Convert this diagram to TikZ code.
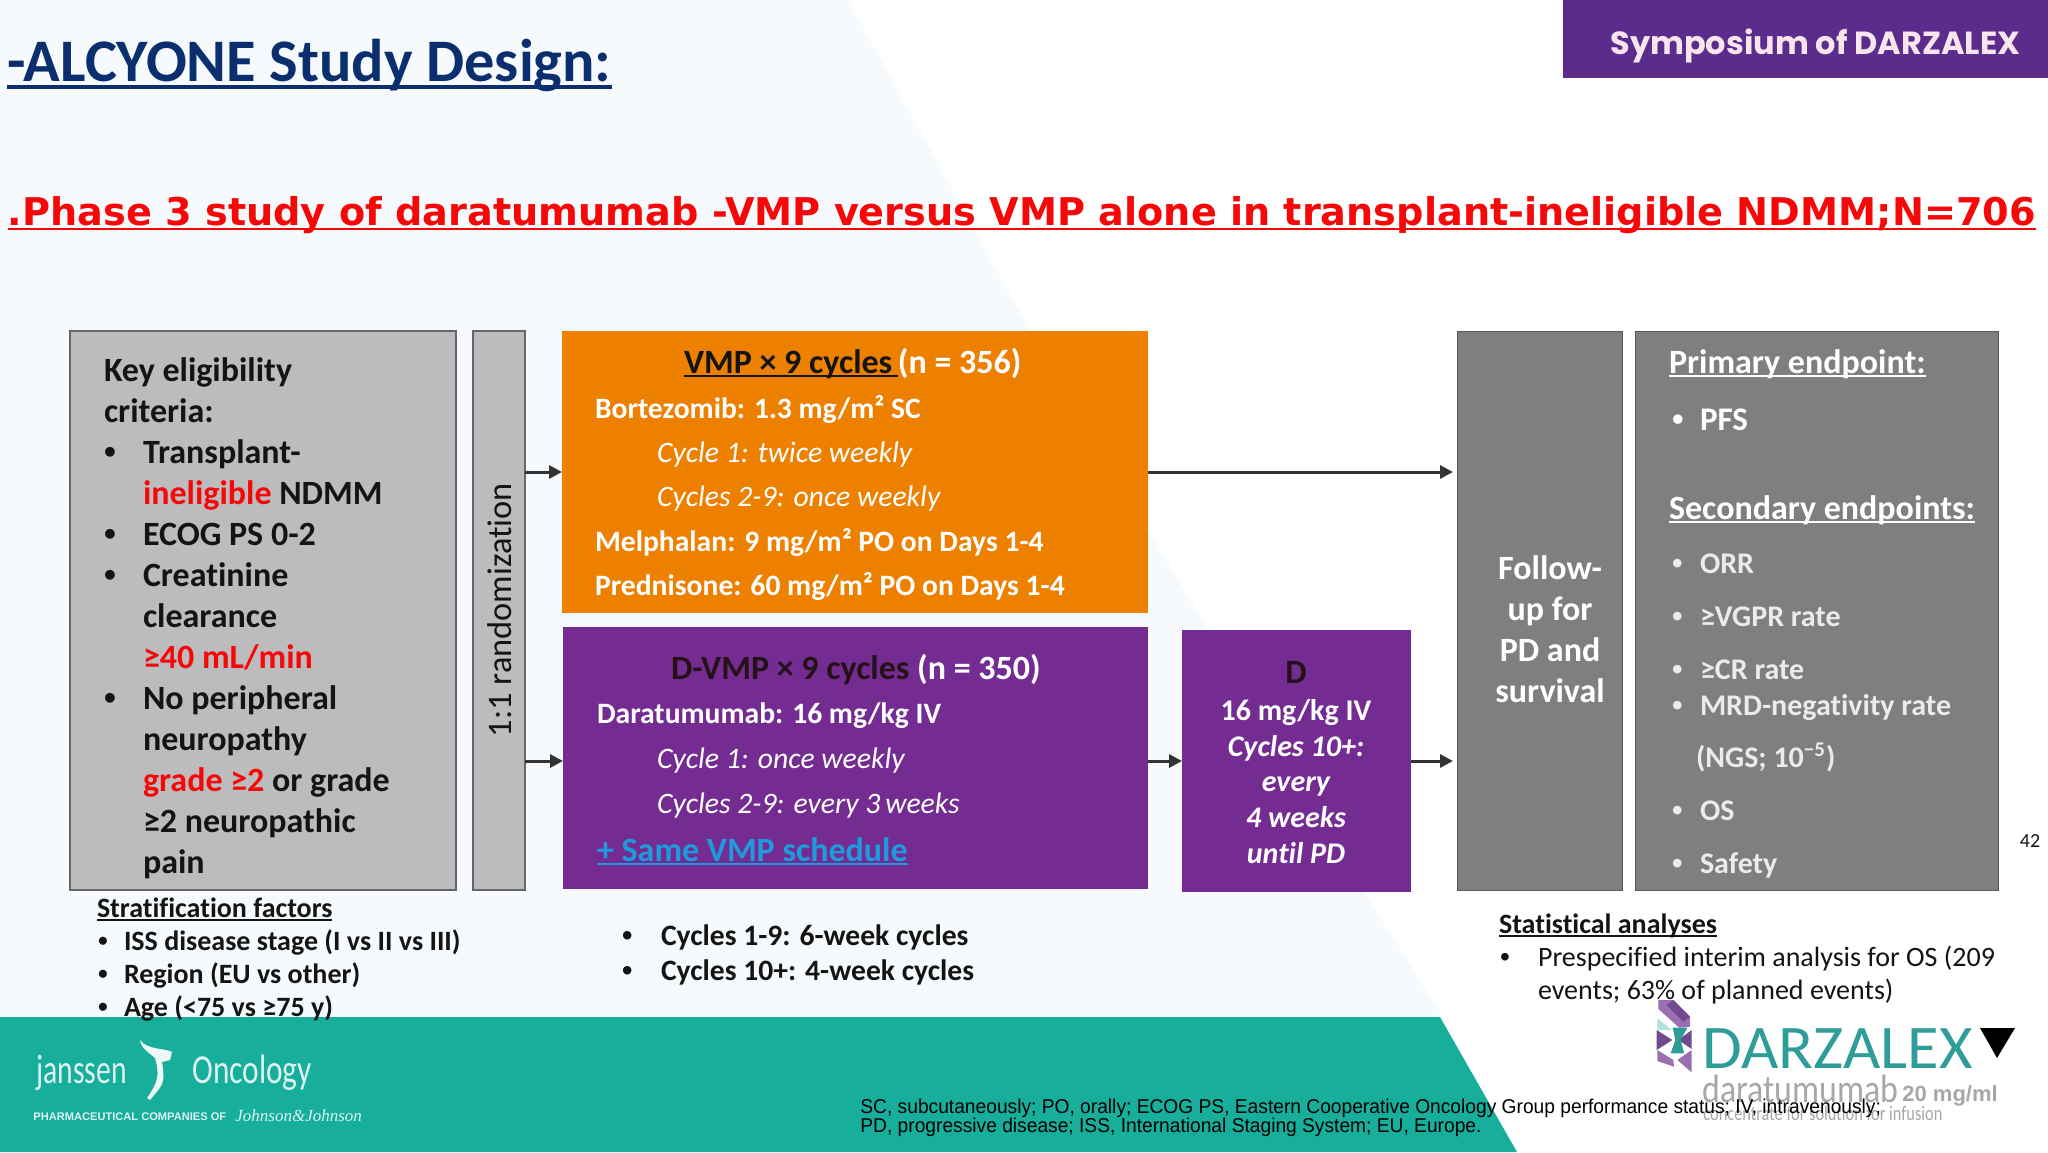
\documentclass[tikz,border=0pt]{standalone}
\usepackage{fontspec}
\setmainfont[Ligatures=NoCommon]{Carlito}
\newfontfamily\verd{DejaVu Sans}
\newfontfamily\arl{Liberation Sans}
\newfontfamily\popp{Poppins}
\newfontfamily\scr{Liberation Serif}
\usetikzlibrary{arrows.meta}
\newcommand\fz[1]{\fontsize{#1}{#1}\selectfont}
\newcommand\bul{{\arl •}}
\newlength\ulw
\newcommand\uln[2][0.06em]{\settowidth\ulw{#2}\rlap{\rule[-0.13em]{\ulw}{#1}}#2}
\definecolor{orangebox}{HTML}{EE8000}
\definecolor{purplebox}{HTML}{752C92}
\definecolor{banner}{HTML}{5B2C8C}
\definecolor{lgrey}{HTML}{BCBCBE}
\definecolor{dgrey}{HTML}{7F7F7F}
\definecolor{teal}{HTML}{17AE9B}
\definecolor{titleblue}{HTML}{0B2F6E}
\definecolor{redtxt}{HTML}{F60808}
\definecolor{darkarrow}{HTML}{333333}
\definecolor{linkblue}{HTML}{1E9BDC}
\definecolor{ink}{HTML}{141414}
\definecolor{pale}{HTML}{F6FAFC}
\definecolor{logoteal}{HTML}{2E9C98}
\definecolor{logogrey}{HTML}{A4A8A8}
\definecolor{logopurple}{HTML}{9A6FB0}
\definecolor{logodeep}{HTML}{6F4A8E}
\tikzset{
 x=0.5pt,y=-0.5pt,
 boxs/.style={inner sep=0,outer sep=0},
 t/.style={anchor=base west,inner sep=0,outer sep=0,text=ink,font=\bfseries\fz{17}},
 tc/.style={anchor=base,inner sep=0,outer sep=0,font=\bfseries\fz{17}},
 flow/.style={draw=darkarrow,line width=1.5pt,-{Triangle[length=6.5pt,width=6.5pt]}},
}
\begin{document}
\begin{tikzpicture}
\useasboundingbox (0,0) rectangle (2048,1152);
\fill[white] (0,0) rectangle (2048,1152);
\fill[pale] (0,0) -- (848,0) -- (1035,340) -- (1367,897) -- (1443,1017) -- (0,1017) -- cycle;
% teal band
\fill[teal] (0,1017) -- (1440,1017) -- (1517,1152) -- (0,1152) -- cycle;
% banner
\node[boxs,fill=banner,minimum width=485*0.5pt,minimum height=78*0.5pt,anchor=north west] (banner) at (1563,0) {};
\node[anchor=base west,inner sep=0,font=\popp\bfseries\fz{16},text=white!90!purple] (bannertext) at (1610,54) {Symposium of DARZALEX};
% titles
\node[t,font=\bfseries\fz{30.2},text=titleblue] (title) at (7,81) {\uln{-ALCYONE Study Design:}};
\node[t,font=\verd\bfseries\fz{19.11},text=redtxt] (subtitle) at (8,225) {\uln{.Phase 3 study of daratumumab -VMP versus VMP alone in transplant-ineligible NDMM;N=706}};
% boxes
\node[boxs,draw=gray!80!black,line width=0.6pt,fill=lgrey,minimum width=386*0.5pt,minimum height=559*0.5pt] (elig) at (263,610.5) {};
\node[boxs,draw=gray!80!black,line width=0.6pt,fill=lgrey,minimum width=52*0.5pt,minimum height=559*0.5pt] (rand) at (499,610.5) {};
\node[boxs,fill=orangebox,minimum width=586*0.5pt,minimum height=282*0.5pt] (vmp) at (855,472) {};
\node[boxs,fill=purplebox,minimum width=585*0.5pt,minimum height=262*0.5pt] (dvmp) at (855.5,758) {};
\node[boxs,fill=purplebox,minimum width=229*0.5pt,minimum height=262*0.5pt] (dbox) at (1296.5,761) {};
\node[boxs,fill=dgrey,draw=gray!70!black,line width=0.4pt,minimum width=165*0.5pt,minimum height=559*0.5pt] (follow) at (1539.5,610.5) {};
\node[boxs,fill=dgrey,draw=gray!70!black,line width=0.4pt,minimum width=363*0.5pt,minimum height=559*0.5pt] (endp) at (1816.5,610.5) {};
% connectors
\draw[flow] (rand.east |- vmp.west) -- (vmp.west);
\draw[flow,shorten >=2pt] (vmp.east) -- (follow.west |- vmp.east);
\coordinate (ylow) at (0,761);
\draw[flow] (rand.east |- ylow) -- (dvmp.west |- ylow);
\draw[flow] (dvmp.east |- ylow) -- (dbox.west |- ylow);
\draw[flow,shorten >=2pt] (dbox.east |- ylow) -- (follow.west |- ylow);
% eligibility
\node[t] (e1) at (104,381) {Key eligibility};
\node[t] (e2) at (104,422) {criteria:};
\node[t] (e3b) at (104,463) {\bul}; \node[t] (e3) at (143,463) {Transplant-};
\node[t] (e4) at (143,504) {\textcolor{redtxt}{ineligible} NDMM};
\node[t] (e5b) at (104,545) {\bul}; \node[t] (e5) at (143,545) {ECOG PS 0-2};
\node[t] (e6b) at (104,586) {\bul}; \node[t] (e6) at (143,586) {Creatinine};
\node[t] (e7) at (143,627) {clearance};
\node[t,text=redtxt] (e8) at (143,668) {≥40 mL/min};
\node[t] (e9b) at (104,709) {\bul}; \node[t] (e9) at (143,709) {No peripheral};
\node[t] (e10) at (143,750) {neuropathy};
\node[t] (e11) at (143,791) {\textcolor{redtxt}{grade ≥2} or grade};
\node[t] (e12) at (143,832) {≥2 neuropathic};
\node[t] (e13) at (143,873) {pain};
\node[anchor=center,rotate=90,inner sep=0,font=\fz{17.2},text=ink] (randt) at (500,610) {1:1 randomization};
% VMP
\node[t,text=white] (v0) at (684,373) {\textcolor{ink}{\uln{VMP × 9 cycles\,}}(n = 356)};
\node[t,text=white,font=\bfseries\fz{14.8}] (v1) at (595,418) {Bortezomib: 1.3 mg/m² SC};
\node[t,text=white,font=\itshape\fz{14.85}] (v2) at (657,462) {Cycle 1: twice weekly};
\node[t,text=white,font=\itshape\fz{14.85}] (v3) at (657,506) {Cycles 2-9: once weekly};
\node[t,text=white,font=\bfseries\fz{14.8}] (v4) at (595,551) {Melphalan: 9 mg/m² PO on Days 1-4};
\node[t,text=white,font=\bfseries\fz{14.8}] (v5) at (595,595) {Prednisone: 60 mg/m² PO on Days 1-4};
% D-VMP
\node[t,text=white] (d0) at (671,679) {\textcolor{ink!90!purple}{D-VMP × 9 cycles} (n = 350)};
\node[t,text=white,font=\bfseries\fz{14.8}] (d1) at (597,723) {Daratumumab: 16 mg/kg IV};
\node[t,text=white,font=\itshape\fz{14.85}] (d2) at (657,768) {Cycle 1: once weekly};
\node[t,text=white,font=\itshape\fz{14.85}] (d3) at (657,813) {Cycles 2-9: every 3\,weeks};
\node[t,text=linkblue,font=\bfseries\fz{17}] (d4) at (597,861) {\uln{+ Same VMP schedule}};
% D box
\node[tc,text=ink!90!purple] (b0) at (1296,683) {D};
\node[tc,text=white,font=\bfseries\fz{15}] (b1) at (1296,720) {16 mg/kg IV};
\node[tc,text=white,font=\bfseries\itshape\fz{15}] (b2) at (1296,756) {Cycles 10+:};
\node[tc,text=white,font=\bfseries\itshape\fz{15}] (b3) at (1296,791) {every};
\node[tc,text=white,font=\bfseries\itshape\fz{15}] (b4) at (1296,827) {4 weeks};
\node[tc,text=white,font=\bfseries\itshape\fz{15}] (b5) at (1296,863) {until PD};
% follow up
\node[tc,text=white] (f1) at (1550,579) {Follow-};
\node[tc,text=white] (f2) at (1550,620) {up for};
\node[tc,text=white] (f3) at (1550,661) {PD and};
\node[tc,text=white] (f4) at (1550,702) {survival};
% endpoints
\tikzset{ep/.style={t,text=white,font=\bfseries\fz{16.5}}, epm/.style={t,text=white!92!black,font=\bfseries\fz{15}}}
\node[t,text=white] (p0) at (1669,373) {\uln{Primary endpoint:}};
\node[ep] (p1b) at (1672,430) {\bul}; \node[ep] (p1) at (1700,430) {PFS};
\node[t,text=white] (s0) at (1669,519) {\uln{Secondary endpoints:}};
\node[epm] (s1b) at (1672,573) {\bul}; \node[epm] (s1) at (1700,573) {ORR};
\node[epm] (s2b) at (1672,626) {\bul}; \node[epm] (s2) at (1700,626) {≥VGPR rate};
\node[epm] (s3b) at (1672,679) {\bul}; \node[epm] (s3) at (1700,679) {≥CR rate};
\node[epm] (s4b) at (1672,715) {\bul}; \node[epm] (s4) at (1700,715) {MRD-negativity rate};
\node[epm] (s5) at (1696,767) {(NGS; 10\textsuperscript{−5})};
\node[epm] (s6b) at (1672,820) {\bul}; \node[epm] (s6) at (1700,820) {OS};
\node[epm] (s7b) at (1672,873) {\bul}; \node[epm] (s7) at (1700,873) {Safety};
% below boxes
\tikzset{sm/.style={t,text=ink,font=\bfseries\fz{14}}}
\node[sm] (st0) at (97,917) {\uln{Stratification factors}};
\node[sm] (st1b) at (98,950) {\bul}; \node[sm] (st1) at (124,950) {ISS disease stage (I vs II vs III)};
\node[sm] (st2b) at (98,983) {\bul}; \node[sm] (st2) at (124,983) {Region (EU vs other)};
\node[sm] (st3b) at (98,1016) {\bul}; \node[sm] (st3) at (124,1016) {Age (<75 vs ≥75 y)};
\tikzset{cy/.style={t,text=ink,font=\bfseries\fz{14.8}}}
\node[cy] (c1b) at (622,945) {\bul}; \node[cy] (c1) at (661,945) {Cycles 1-9: 6-week cycles};
\node[cy] (c2b) at (622,980) {\bul}; \node[cy] (c2) at (661,980) {Cycles 10+: 4-week cycles};
\node[sm,font=\bfseries\fz{14}] (an0) at (1499,933) {\uln{Statistical analyses}};
\tikzset{an/.style={t,text=ink,font=\fz{14}}}
\node[an] (an1b) at (1500,966) {\bul}; \node[an] (an1) at (1538,966) {Prespecified interim analysis for OS (209};
\node[an] (an2) at (1538,999) {events; 63\% of planned events)};
\node[anchor=base,inner sep=0,font=\fz{10},text=ink] (page) at (2030,847) {42};
% Janssen logo
\tikzset{lg/.style={anchor=base west,inner sep=0,text=white!85!teal}}
\node[lg,font=\fz{16.5}] (jan) at (36,1083) {\scalebox{0.9}[1.25]{janssen}};
\node[lg,font=\fz{16.5}] (onc) at (192,1083) {\scalebox{0.95}[1.25]{Oncology}};
\fill[white!92!teal] (140,1040) .. controls (147,1050) and (165,1048) .. (172,1052) -- (170,1060) -- (162,1062) .. controls (166,1085) and (162,1085) .. (150,1100) -- (147,1098) .. controls (158,1082) and (160,1075) .. (155,1058) .. controls (148,1052) and (141,1048) .. (140,1040) -- cycle;
\node[lg,font=\arl\bfseries\fz{5.55}] (pharma) at (33,1120) {PHARMACEUTICAL COMPANIES OF};
\node[lg,font=\scr\itshape\fz{8.5}] (jj) at (235,1121) {Johnson\&Johnson};
% Darzalex logo
\begin{scope}[shift={(1640,985)},x=0.16667pt,y=-0.16667pt]
\fill[logopurple] (55,45) -- (100,45) -- (150,95) -- (150,125) -- (118,128) -- (55,72) -- cycle;
\fill[logodeep] (80,60) -- (100,45) -- (150,95) -- (130,110) -- cycle;
\fill[teal!35] (52,100) -- (95,135) -- (52,135) -- cycle;
\fill[logodeep] (50,135) -- (97,165) -- (50,195) -- cycle;
\fill[logodeep] (155,135) -- (115,165) -- (155,192) -- cycle;
\fill[logoteal] (98,128) -- (142,128) -- (122,165) -- (132,205) -- (92,205) -- (106,165) -- cycle;
\fill[logopurple] (52,195) -- (100,225) -- (102,245) -- (52,228) -- cycle;
\fill[logopurple] (155,195) -- (155,262) -- (112,225) -- cycle;
\end{scope}
\node[anchor=base west,inner sep=0,font=\fz{31},text=logoteal] (darz) at (1702,1068) {\scalebox{1.04}[1]{DARZALEX}};
\fill[black] (1980,1028) -- (2015,1028) -- (1997,1058) -- cycle;
\node[anchor=base west,inner sep=0,font=\fz{18},text=logogrey] (dara) at (1702,1102) {\scalebox{0.94}[1.1]{daratumumab}};
\node[anchor=base west,inner sep=0,font=\arl\bfseries\fz{11},text=logogrey] (conc) at (1902,1101) {20 mg/ml};
\node[anchor=base west,inner sep=0,font=\fz{8.6},text=logogrey] (sol) at (1703,1120) {\scalebox{0.95}[1.2]{concentrate for solution for infusion}};
% footnote
\node[anchor=base west,inner sep=0,font=\arl\fz{10},text=black] (fn1) at (860,1113) {\scalebox{0.96}[1]{SC, subcutaneously; PO, orally; ECOG PS, Eastern Cooperative Oncology Group performance status; IV, intravenously;}};
\node[anchor=base west,inner sep=0,font=\arl\fz{10},text=black] (fn2) at (860,1132) {\scalebox{0.96}[1]{PD, progressive disease; ISS, International Staging System; EU, Europe.}};
\end{tikzpicture}
\end{document}
